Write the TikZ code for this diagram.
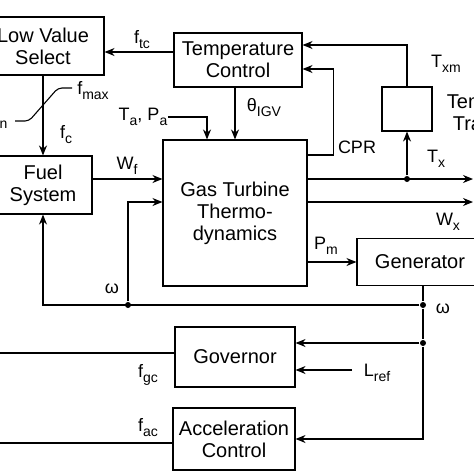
\documentclass[tikz,border=0pt]{standalone}
\usepackage{fontspec}
\setmainfont{Liberation Sans}
\usepackage{tikz}
\usetikzlibrary{arrows.meta}
\tikzstyle{blk} = [rectangle, draw, fill=white, align=center, inner sep=0pt]
\tikzstyle{lbl} = [font=\fontsize{18}{20}\selectfont, inner sep=0pt]
\tikzstyle{dot} = [circle, fill, inner sep=0pt, minimum size=6pt]
\newcommand{\sbs}[1]{\raisebox{-5pt}{\fontsize{14}{14}\selectfont #1}}

\begin{document}
\begin{tikzpicture}[->,>={Stealth[length=10pt,width=8pt]},x=1pt,y=-1pt,line width=1.1pt,font=\fontsize{20}{22}\selectfont]
  \useasboundingbox (0,0) rectangle (474,474);
  \node[blk, minimum width=122pt, minimum height=58pt] (lvs) at (43,46) {Low Value\\Select};
  \node[blk, minimum width=128pt, minimum height=54pt] (tc) at (238,60) {Temperature\\Control};
  \node[blk, minimum width=98pt, minimum height=58pt] (fuel) at (43,185) {Fuel\\System};
  \node[blk, minimum width=144pt, minimum height=146pt] (gt) at (235,213) {Gas Turbine\\Thermo-\\dynamics};
  \node[blk, minimum width=50pt, minimum height=44pt] (tt) at (407,109) {};
  \node[blk, minimum width=126pt, minimum height=47pt] (gen) at (420,262) {Generator};
  \node[blk, minimum width=120pt, minimum height=60pt] (gov) at (235,357) {Governor};
  \node[blk, minimum width=122pt, minimum height=62pt] (acc) at (234,439) {Acceleration\\Control};
  \node[align=center, anchor=west] (ttxt) at (443,113) {Temperature\\Transducer};

  % signal labels
  \node[lbl] (ftc) at (142,40) {f\sbs{tc}};
  \node[lbl, anchor=east] (fmin) at (8,119) {f\sbs{min}};
  \node[lbl] (fmax) at (93,91) {f\sbs{max}};
  \node[lbl] (fc) at (66,135) {f\sbs{c}};
  \node[lbl] (wf) at (127,166) {W\sbs{f}};
  \node[lbl] (tapa) at (143,117) {T\sbs{a}, P\sbs{a}};
  \node[lbl] (tigv) at (264,108) {θ\sbs{IGV}};
  \node[lbl] (cpr) at (357,147) {CPR};
  \node[lbl] (txm) at (446,64) {T\sbs{xm}};
  \node[lbl] (tx) at (436,159) {T\sbs{x}};
  \node[lbl] (wx) at (448,222) {W\sbs{x}};
  \node[lbl] (pm) at (326,246) {P\sbs{m}};
  \node[lbl] (om1) at (112,289) {ω};
  \node[lbl] (om2) at (443,309) {ω};
  \node[lbl] (lref) at (377,373) {L\sbs{ref}};
  \node[lbl] (fgc) at (148,375) {f\sbs{gc}};
  \node[lbl] (fac) at (148,428) {f\sbs{ac}};

  % junctions
  \node[dot] (w1) at (128,305) {};
  \node[dot] (w2) at (423,305) {};
  \node[dot] (w3) at (423,343) {};
  \node[dot] (txd) at (407,179) {};
  \coordinate (txend) at (473,179);
  \coordinate (wxend) at (473,202);
  \coordinate (gout) at (-2,353);
  \coordinate (aout) at (-2,443);

  \draw ([yshift=8pt]tc.west) -- ([yshift=-6pt]lvs.east);
  \draw (lvs.south) -- (fuel.north);
  \draw[-, rounded corners=4pt] (15,121) -- (29,121) -- (58,88) -- (72,88);
  \draw ([yshift=6pt]fuel.east) -- ([yshift=34pt]gt.west);
  \draw (w1) |- ([yshift=11pt]gt.west);
  \draw (w2) -| (fuel.south);
  \draw[-] (gen.south -| w2) -- (w2) -- (w3);
  \draw (w3) -- ([yshift=14pt]gov.east);
  \draw (w3) |- (acc.east);
  \draw (352,370) -- ([yshift=-13pt]gov.east);
  \draw[-] ([yshift=4pt]gov.west) -- (gout);
  \draw[-] ([yshift=-4pt]acc.west) -- (aout);
  \draw (gt.east |- gen.west) -- (gen.west);
  \draw ([yshift=34pt]gt.east) -- (txend);
  \draw (txd) -- (tt.south);
  \draw ([yshift=11pt]gt.east) -- (wxend);
  \draw (tt.north) |- ([yshift=15pt]tc.east);
  \draw ([yshift=58pt]gt.east) -- ++(26,0) |- ([yshift=-9pt]tc.east);
  \draw (tc.south -| gt.north) -- (gt.north);
  \draw (tapa.east) -| ([xshift=-28pt]gt.north);
\end{tikzpicture}
\end{document}
